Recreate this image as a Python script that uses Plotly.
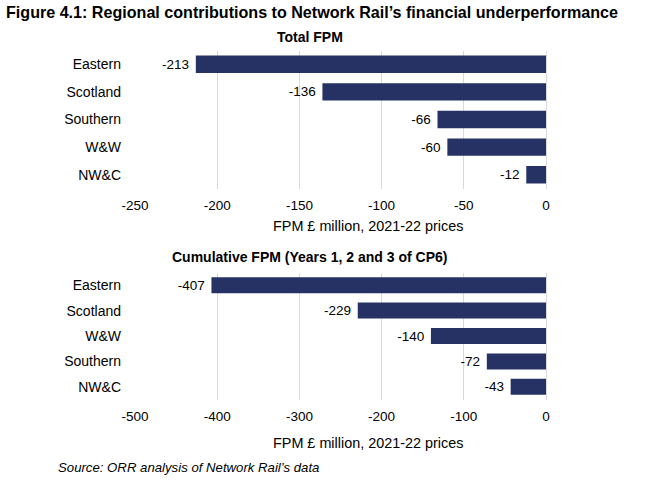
import plotly.graph_objects as go

regions_total = ["Eastern", "Scotland", "Southern", "W&W", "NW&C"]
values_total = [-213, -136, -66, -60, -12]
regions_cum = ["Eastern", "Scotland", "W&W", "Southern", "NW&C"]
values_cum = [-407, -229, -140, -72, -43]
ticks_total = [-250, -200, -150, -100, -50, 0]
ticks_cum = [-500, -400, -300, -200, -100, 0]

BAR = "#263264"
GRID = "#d9d9d9"
FONT = "Liberation Sans, Arial, sans-serif"

fig = go.Figure()
fig.add_trace(go.Bar(y=regions_total, x=values_total, orientation="h",
                     marker=dict(color=BAR, line=dict(width=0)),
                     text=[f"{v}\u00a0" for v in values_total], textposition="outside",
                     textfont=dict(size=13.5, color="#000000"), cliponaxis=False,
                     xaxis="x", yaxis="y", hoverinfo="x+y"))
fig.add_trace(go.Bar(y=regions_cum, x=values_cum, orientation="h",
                     marker=dict(color=BAR, line=dict(width=0)),
                     text=[f"{v}\u00a0" for v in values_cum], textposition="outside",
                     textfont=dict(size=13.5, color="#000000"), cliponaxis=False,
                     xaxis="x2", yaxis="y2", hoverinfo="x+y"))

H = 480.0
W = 667.0
xdom = [135 / W, 546 / W]

axis_common = dict(showgrid=True, gridcolor=GRID, gridwidth=1, zeroline=True,
                   zerolinecolor=GRID, zerolinewidth=1, showline=False,
                   ticks="outside", ticklen=4, tickcolor="rgba(0,0,0,0)",
                   automargin=False,
                   tickfont=dict(size=13.5, color="#000000", family=FONT))
yaxis_common = dict(showgrid=False, zeroline=False, showline=False,
                    ticks="", ticklabelstandoff=13, automargin=False,
                    tickfont=dict(size=14, color="#000000", family=FONT))

fig.update_layout(
    width=667, height=480,
    margin=dict(l=0, r=0, t=0, b=0),
    paper_bgcolor="white", plot_bgcolor="white",
    font=dict(family=FONT, color="#000000"),
    showlegend=False,
    bargap=0.37,
    xaxis=dict(domain=xdom, anchor="y", range=[-250, 0], tickvals=ticks_total,
               ticktext=[str(t) for t in ticks_total], **axis_common),
    yaxis=dict(domain=[1 - 188.5 / H, 1 - 50.5 / H], anchor="x",
               categoryorder="array", categoryarray=regions_total[::-1],
               **yaxis_common),
    xaxis2=dict(domain=xdom, anchor="y2", range=[-500, 0], tickvals=ticks_cum,
                ticktext=[str(t) for t in ticks_cum], **axis_common),
    yaxis2=dict(domain=[1 - 399.5 / H, 1 - 272.5 / H], anchor="x2",
                categoryorder="array", categoryarray=regions_cum[::-1],
                **yaxis_common),
)

annotations = [
    dict(text="<b>Figure 4.1: Regional contributions to Network Rail’s financial underperformance</b>",
         x=4 / W, y=1 - 12 / H, xanchor="left", yanchor="middle",
         font=dict(size=16.1, color="#000000")),
    dict(text="<b>Total FPM</b>", x=310 / W, y=1 - 37 / H, xanchor="center",
         yanchor="middle", font=dict(size=14)),
    dict(text="FPM £ million, 2021-22 prices", x=368 / W, y=1 - 226 / H,
         xanchor="center", yanchor="middle", font=dict(size=14.4)),
    dict(text="<b>Cumulative FPM (Years 1, 2 and 3 of CP6)</b>", x=309 / W, y=1 - 257 / H,
         xanchor="center", yanchor="middle", font=dict(size=14)),
    dict(text="FPM £ million, 2021-22 prices", x=368 / W, y=1 - 443 / H,
         xanchor="center", yanchor="middle", font=dict(size=14.4)),
    dict(text="<i>Source: ORR analysis of Network Rail’s data</i>", x=56 / W, y=1 - 467 / H,
         xanchor="left", yanchor="middle", font=dict(size=13.2)),
]
for a in annotations:
    a.update(xref="paper", yref="paper", showarrow=False)
fig.update_layout(annotations=annotations)

fig.write_html("out.html")
